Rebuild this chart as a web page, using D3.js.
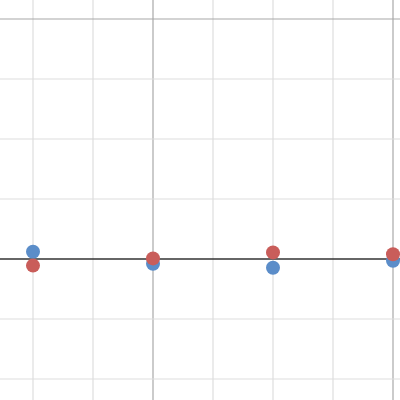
<!DOCTYPE html>
<html><head><meta charset="utf-8">
<script src="https://cdn.jsdelivr.net/npm/d3@7"></script>
<style>body{margin:0}svg{display:block}</style></head>
<body><svg id="c" width="400" height="400"></svg>
<script>
const xs = [1, 2, 3, 4];
const blue = [0.12, -0.08, -0.145, -0.03];
const red = [-0.11, 0.01, 0.11, 0.08];
const svg = d3.select("#c");
// 60px per 0.5 in x; 60px per 1 in y
const x = d3.scaleLinear().domain([1, 4]).range([33, 393]);
const y = d3.scaleLinear().domain([0, 4]).range([259, 19]);
svg.append("rect").attr("width",400).attr("height",400).attr("fill","#fff");
const xt = d3.range(-1, 5.01, 0.5);
const yt = d3.range(-4, 6, 1);
svg.selectAll(".vx").data(xt).enter().append("line")
  .attr("x1",d=>x(d)).attr("x2",d=>x(d)).attr("y1",0).attr("y2",400)
  .attr("stroke",d=>d%2===0?"#a8a8a8":"#dedede").attr("stroke-width",1.2);
svg.selectAll(".hy").data(yt.filter(d=>d!==0)).enter().append("line")
  .attr("y1",d=>y(d)).attr("y2",d=>y(d)).attr("x1",0).attr("x2",400)
  .attr("stroke",d=>d%4===0?"#a8a8a8":"#dedede").attr("stroke-width",1.2);
svg.append("line").attr("x1",0).attr("x2",400).attr("y1",y(0)).attr("y2",y(0))
  .attr("stroke","#333").attr("stroke-width",1.6);
function dots(vals, col){
  svg.append("g").selectAll("circle").data(vals).enter().append("circle")
    .attr("cx",(d,i)=>x(xs[i])).attr("cy",d=>y(d)).attr("r",7)
    .attr("fill",col);
}
dots(blue, "#5b8dc9");
dots(red, "#c95d5a");
</script></body></html>
